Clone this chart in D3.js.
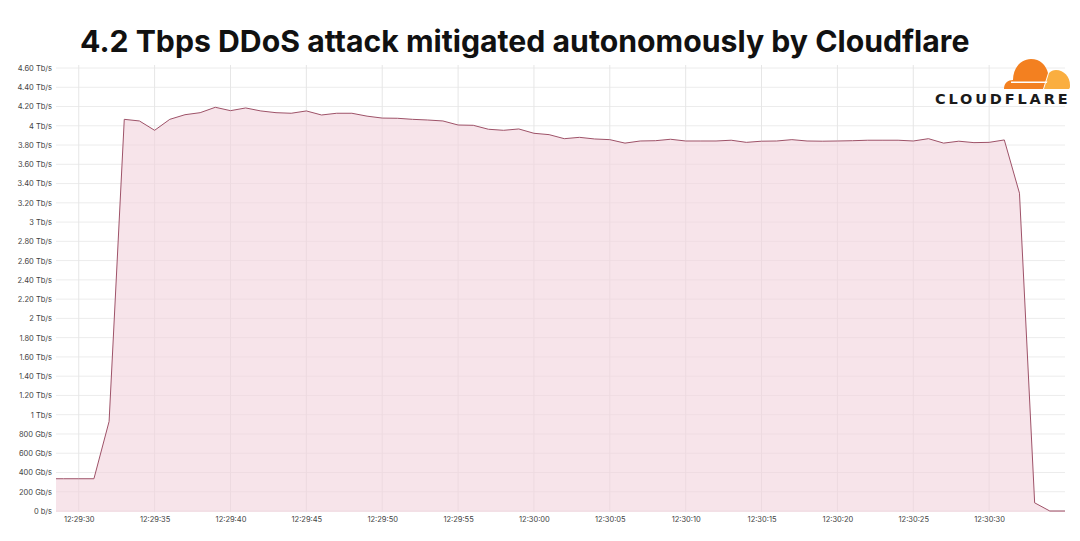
<!DOCTYPE html>
<html>
<head>
<meta charset="utf-8">
<script src="https://cdn.jsdelivr.net/npm/d3@7"></script>
<style>
  html, body { margin: 0; padding: 0; background: #ffffff; }
  svg { display: block; }
</style>
</head>
<body>
<svg id="chart" width="1080" height="541"></svg>
<script>
// ---- data ----
const chartTitle = "4.2 Tbps DDoS attack mitigated autonomously by Cloudflare";
const sampleTimes = [
  "12:29:28","12:29:29","12:29:30","12:29:31","12:29:32","12:29:33","12:29:34","12:29:35",
  "12:29:36","12:29:37","12:29:38","12:29:39","12:29:40","12:29:41","12:29:42","12:29:43",
  "12:29:44","12:29:45","12:29:46","12:29:47","12:29:48","12:29:49","12:29:50","12:29:51",
  "12:29:52","12:29:53","12:29:54","12:29:55","12:29:56","12:29:57","12:29:58","12:29:59",
  "12:30:00","12:30:01","12:30:02","12:30:03","12:30:04","12:30:05","12:30:06","12:30:07",
  "12:30:08","12:30:09","12:30:10","12:30:11","12:30:12","12:30:13","12:30:14","12:30:15",
  "12:30:16","12:30:17","12:30:18","12:30:19","12:30:20","12:30:21","12:30:22","12:30:23",
  "12:30:24","12:30:25","12:30:26","12:30:27","12:30:28","12:30:29","12:30:30","12:30:31",
  "12:30:32","12:30:33","12:30:34","12:30:35"
];
const trafficTbps = [
  0.335, 0.335, 0.335, 0.335, 0.93, 4.067, 4.05, 3.953,
  4.067, 4.115, 4.136, 4.192, 4.157, 4.185, 4.154, 4.136,
  4.13, 4.154, 4.112, 4.13, 4.13, 4.10, 4.08, 4.078,
  4.067, 4.06, 4.05, 4.008, 4.005, 3.964, 3.953, 3.967,
  3.922, 3.908, 3.866, 3.88, 3.863, 3.856, 3.82, 3.842,
  3.845, 3.86, 3.842, 3.842, 3.842, 3.85, 3.828, 3.84,
  3.842, 3.856, 3.842, 3.84, 3.842, 3.845, 3.85, 3.85,
  3.85, 3.842, 3.866, 3.82, 3.84, 3.825, 3.828, 3.853,
  3.30, 0.085, 0, 0
];
const yTickValues = [0, 0.2, 0.4, 0.6, 0.8, 1, 1.2, 1.4, 1.6, 1.8, 2, 2.2, 2.4, 2.6, 2.8, 3, 3.2, 3.4, 3.6, 3.8, 4, 4.2, 4.4, 4.6];
const yTickLabels = ["0 b/s","200 Gb/s","400 Gb/s","600 Gb/s","800 Gb/s","1 Tb/s","1.20 Tb/s","1.40 Tb/s","1.60 Tb/s","1.80 Tb/s","2 Tb/s","2.20 Tb/s","2.40 Tb/s","2.60 Tb/s","2.80 Tb/s","3 Tb/s","3.20 Tb/s","3.40 Tb/s","3.60 Tb/s","3.80 Tb/s","4 Tb/s","4.20 Tb/s","4.40 Tb/s","4.60 Tb/s"];
const xTickTimes = ["12:29:30","12:29:35","12:29:40","12:29:45","12:29:50","12:29:55","12:30:00","12:30:05","12:30:10","12:30:15","12:30:20","12:30:25","12:30:30"];
const xDomainTimes = ["12:29:28.500", "12:30:35.000"];
const logoText = "CLOUDFLARE";

// ---- setup ----
const parse = d3.timeParse("%H:%M:%S");
const parseMs = d3.timeParse("%H:%M:%S.%L");
const data = sampleTimes.map((t, i) => ({ t: parse(t), v: trafficTbps[i] }));

const svg = d3.select("#chart");
const m = { left: 56, right: 1065, top: 68, bottom: 511 };

const x = d3.scaleTime()
  .domain(xDomainTimes.map(parseMs))
  .range([m.left, m.right]);
const y = d3.scaleLinear().domain([0, 4.6]).range([m.bottom, m.top]);

// clip
svg.append("defs").append("clipPath").attr("id", "plotclip")
  .append("rect").attr("x", m.left).attr("y", m.top - 5)
  .attr("width", m.right - m.left).attr("height", m.bottom - m.top + 6);

// horizontal grid
svg.append("g")
  .selectAll("line").data(yTickValues).join("line")
  .attr("x1", m.left).attr("x2", m.right)
  .attr("y1", d => y(d)).attr("y2", d => y(d))
  .attr("stroke", "#ececec").attr("stroke-width", 1);

// vertical grid
const xTicks = xTickTimes.map(parse);
svg.append("g")
  .selectAll("line").data(xTicks).join("line")
  .attr("x1", d => x(d)).attr("x2", d => x(d))
  .attr("y1", m.top - 3).attr("y2", m.bottom + 1)
  .attr("stroke", "#e6e6e6").attr("stroke-width", 1);

// area + line
const area = d3.area().x(d => x(d.t)).y0(y(0) + 1).y1(d => y(d.v));
const line = d3.line().x(d => x(d.t)).y(d => y(d.v));
const g = svg.append("g").attr("clip-path", "url(#plotclip)");
g.append("path").datum(data).attr("d", area)
  .attr("fill", "#f1d2dc").attr("fill-opacity", 0.6);
g.append("path").datum(data).attr("d", line)
  .attr("fill", "none").attr("stroke", "#9e5268").attr("stroke-width", 1);

// y-axis labels
const yAxis = d3.axisLeft(y).tickValues(yTickValues)
  .tickFormat((d, i) => yTickLabels[i]).tickSize(0).tickPadding(4);
const ya = svg.append("g").attr("transform", `translate(${m.left},0)`).call(yAxis);
ya.select(".domain").remove();
ya.selectAll("text").attr("font-family", "Inter, 'Noto Sans', sans-serif")
  .attr("font-size", 7.5).attr("fill", "#444");

// x-axis labels
const xAxis = d3.axisBottom(x).tickValues(xTicks)
  .tickFormat(d3.timeFormat("%H:%M:%S")).tickSize(0).tickPadding(6);
const xa = svg.append("g").attr("transform", `translate(0,${m.bottom})`).call(xAxis);
xa.select(".domain").remove();
xa.selectAll("text").attr("font-family", "Inter, 'Noto Sans', sans-serif")
  .attr("font-size", 7.5).attr("fill", "#444");

// title
const title = svg.append("text")
  .attr("x", 80).attr("y", 52)
  .attr("font-family", "Inter, 'Noto Sans', sans-serif")
  .attr("font-weight", 700).attr("font-size", 28)
  .attr("fill", "#111")
  .text(chartTitle);
const tw = title.node().getComputedTextLength();
title.attr("font-size", 28 * 890 / tw);

// Cloudflare logo
const logo = svg.append("g");
logo.append("path")
  .attr("d", "M1004,89 C1004,83 1008,80 1013,80 C1013,68 1021,59 1031,59 C1040,59 1046,65 1048,73 L1043,89 Z")
  .attr("fill", "#f38020");
logo.append("path")
  .attr("d", "M1044,89 L1049,73 C1051,71 1053,70 1056,70 C1064,70 1070,77 1070,85 C1070,87 1070,88 1069,89 Z")
  .attr("fill", "#faae40");
logo.append("path")
  .attr("d", "M1011,81.5 L1047.5,81.5 L1046.8,83 L1011,83 Z")
  .attr("fill", "#ffffff");
const lt = logo.append("text")
  .attr("x", 935).attr("y", 104)
  .attr("font-family", "'DejaVu Sans', sans-serif")
  .attr("font-weight", 700).attr("font-size", 14.5)
  .attr("fill", "#1a1a1a")
  .text(logoText);
const lw = lt.node().getComputedTextLength();
lt.attr("letter-spacing", Math.max(0, (134 - lw) / (logoText.length - 0.5)));
</script>
</body>
</html>
